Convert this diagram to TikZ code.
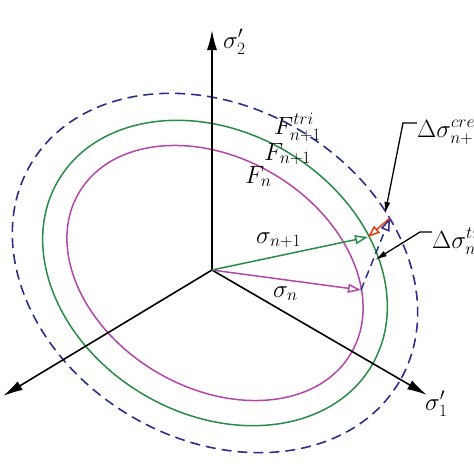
\documentclass[tikz,border=0pt]{standalone}
\usetikzlibrary{arrows.meta}
\definecolor{dnavy}{RGB}{45,45,140}
\definecolor{dgreen}{RGB}{40,140,70}
\definecolor{dmag}{RGB}{180,70,170}
\definecolor{dred}{RGB}{230,60,20}
\tikzset{
  axisline/.style={line width=1.6pt, -{Latex[length=20pt,width=10pt]}},
  ell/.style={line width=1.5pt},
  dashell/.style={line width=1.6pt, dnavy, dash pattern=on 10pt off 6pt},
  vecline/.style={line width=1.5pt, -{Triangle[open,length=13pt,width=9pt]}},
  leader/.style={line width=1.3pt, -{Latex[length=12pt,width=6pt]}},
  lab/.style={anchor=base west, inner sep=0pt, font=\fontsize{26}{30}\selectfont}
}
\begin{document}
\begin{tikzpicture}[x=1pt,y=-1pt]
\useasboundingbox (0,0) rectangle (474,474);
% ellipses
\coordinate (C) at (215,273);
\draw[dashell, rotate around={-30.6:(C)}] (C) ellipse [x radius=214, y radius=166];
\draw[ell, dgreen, rotate around={-30.6:(C)}] (C) ellipse [x radius=182, y radius=141];
\draw[ell, dmag, rotate around={-30.6:(C)}] (C) ellipse [x radius=158, y radius=115];
% axes
\coordinate (O) at (212,270);
\coordinate (A2) at (212,30);
\coordinate (A1) at (427,395);
\coordinate (A3) at (3,396);
\draw[axisline] (O) -- (A2);
\draw[axisline] (O) -- (A1);
\draw[axisline] (O) -- (A3);
% stress points
\coordinate (Sn) at (361,290);
\coordinate (Sn1) at (368,237);
\coordinate (Tr) at (390,218);
\draw[vecline, dmag] (O) -- (Sn);
\draw[vecline, dgreen] (O) -- (Sn1);
\draw[vecline, dnavy, dash pattern=on 8pt off 5pt, -{Triangle[open,length=13pt,width=9pt]}] (Sn) -- (Tr);
\draw[line width=1.5pt, dred, -{Triangle[open,length=12pt,width=9pt]}] (Tr) -- (Sn1);
% labels
\node[lab] (l2) at (223,48) {$\sigma_2'$};
\node[lab] (l1) at (425,410) {$\sigma_1'$};
\node[lab] (lsn1) at (256,243) {$\sigma_{n+1}$};
\node[lab] (lsn) at (273,297) {$\sigma_{n}$};
\node[lab] (lfn) at (245,183) {$F_{n}$};
\node[lab] (lfn1) at (264,160) {$F_{n+1}$};
\node[lab] (lftr) at (274,134) {$F_{n+1}^{tri}$};
\node[lab] (lcre) at (417,137) {$\Delta\sigma_{n+1}^{cre}$};
\node[lab] (ltri) at (432,248) {$\Delta\sigma_{n}^{tri}$};
% leaders
\coordinate (k1) at (403,123);
\coordinate (t1) at (385,214);
\draw[leader] (lcre.west |- k1) -- (k1) -- (t1);
\coordinate (k2) at (420,232);
\coordinate (t2) at (375,260);
\draw[leader] (ltri.west |- k2) -- (k2) -- (t2);
\end{tikzpicture}
\end{document}
